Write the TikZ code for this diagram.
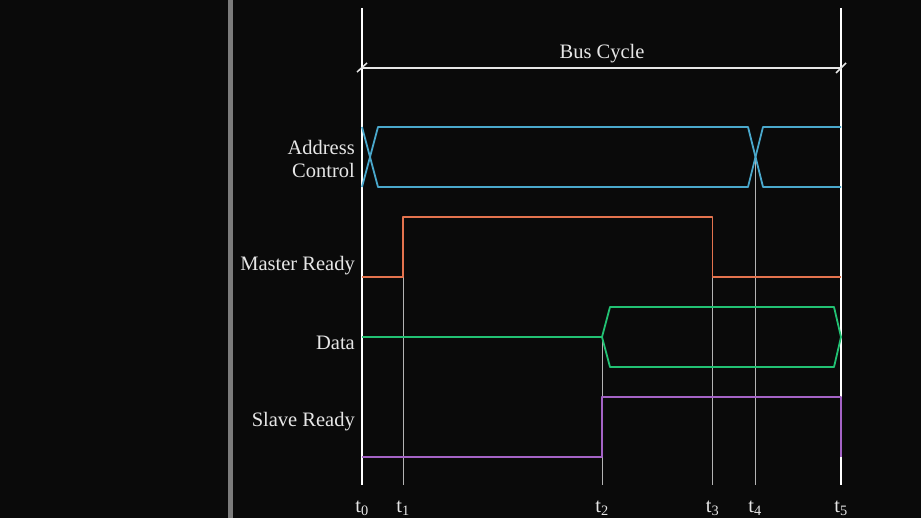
\documentclass[tikz,border=0pt]{standalone}
\usepackage{fontspec}
\setmainfont{Liberation Serif}
\usetikzlibrary{calc}
\definecolor{bgblack}{HTML}{0A0A0A}
\definecolor{bargray}{HTML}{7C7C7C}
\definecolor{txtgray}{HTML}{E6E6E6}
\definecolor{gridgray}{HTML}{B4B4B4}
\definecolor{addrblue}{HTML}{4AA8CC}
\definecolor{mrorange}{HTML}{E4734E}
\definecolor{datagreen}{HTML}{22C173}
\definecolor{srpurple}{HTML}{A463C6}
\tikzset{
  lbl/.style={text=txtgray, font=\fontsize{20.5}{23}\selectfont, inner sep=0pt},
  tedge/.style={draw=white, line width=2pt},
  tline/.style={draw=gridgray, line width=1pt},
  wave/.style={line width=1.8pt, line join=round}
}
\begin{document}
\begin{tikzpicture}[x=1pt, y=-1pt]
  \fill[bgblack] (0,0) rectangle (921,518);
  \useasboundingbox (0,0) rectangle (921,518);
  \fill[bargray] (228,0) rectangle (233,518);
  % times
  \coordinate (t0) at (362,0);
  \coordinate (t1) at (403,0);
  \coordinate (t2) at (602,0);
  \coordinate (t3) at (712.5,0);
  \coordinate (t4) at (755,0);
  \coordinate (t5) at (841,0);
  % levels
  \coordinate (top) at (0,8);
  \coordinate (bot) at (0,485);
  \coordinate (cyc) at (0,68);
  \coordinate (adhi) at (0,127);
  \coordinate (admid) at (0,157);
  \coordinate (adlo) at (0,187);
  \coordinate (mrhi) at (0,217);
  \coordinate (mrlo) at (0,277);
  \coordinate (dahi) at (0,307);
  \coordinate (damid) at (0,337);
  \coordinate (dalo) at (0,367);
  \coordinate (srhi) at (0,397);
  \coordinate (srlo) at (0,457);
  % time lines
  \draw[tline] (t1 |- mrhi) -- (t1 |- bot);
  \draw[tline] (t2 |- damid) -- (t2 |- bot);
  \draw[tline] (t3 |- mrhi) -- (t3 |- bot);
  \draw[tline] (t4 |- admid) -- (t4 |- bot);
  \draw[tedge] (t0 |- top) -- (t0 |- bot);
  \draw[tedge] (t5 |- top) -- (t5 |- bot);
  % bus cycle
  \draw[draw=txtgray, line width=1.5pt] (t0 |- cyc) -- (t5 |- cyc);
  \draw[draw=txtgray, line width=1.5pt] ($(t0 |- cyc)+(-5,4)$) -- ($(t0 |- cyc)+(5,-5)$);
  \draw[draw=txtgray, line width=1.5pt] ($(t5 |- cyc)+(-5,5)$) -- ($(t5 |- cyc)+(5,-5)$);
  \node[lbl] (cycle) at (602,54) {Bus Cycle};
  % address / control
  \begin{scope}[wave, draw=addrblue]
    \draw (t0 |- adlo) -- ($(t0 |- adhi)+(16,0)$) -- ($(t4 |- adhi)+(-7,0)$)
      -- ($(t4 |- adlo)+(8,0)$) -- (t5 |- adlo);
    \draw (t0 |- adhi) -- ($(t0 |- adlo)+(16,0)$) -- ($(t4 |- adlo)+(-7,0)$)
      -- ($(t4 |- adhi)+(8,0)$) -- (t5 |- adhi);
  \end{scope}
  % master ready
  \draw[wave, draw=mrorange] (t0 |- mrlo) -- (t1 |- mrlo) -- (t1 |- mrhi)
    -- (t3 |- mrhi) -- (t3 |- mrlo) -- (t5 |- mrlo);
  % data
  \draw[wave, draw=datagreen] (t0 |- damid) -- (t2 |- damid)
    -- ($(t2 |- dahi)+(8,0)$) -- ($(t5 |- dahi)+(-7,0)$) -- (t5 |- damid)
    -- ($(t5 |- dalo)+(-7,0)$) -- ($(t2 |- dalo)+(8,0)$) -- (t2 |- damid);
  % slave ready
  \draw[wave, draw=srpurple] (t0 |- srlo) -- (t2 |- srlo) -- (t2 |- srhi)
    -- (t5 |- srhi) -- (t5 |- srlo);
  % labels
  \node[lbl, anchor=east, align=right] (addr) at (355,159) {Address\\[0pt]Control};
  \node[lbl, anchor=east] (mr) at (355,266) {Master Ready};
  \node[lbl, anchor=east] (data) at (355,343) {Data};
  \node[lbl, anchor=east] (sr) at (355,422) {Slave Ready};
  \foreach \i in {0,...,5}
    \node[lbl] (l\i) at ($(t\i |- bot)+(0,23)$) {t\textsubscript{\i}};
\end{tikzpicture}
\end{document}
